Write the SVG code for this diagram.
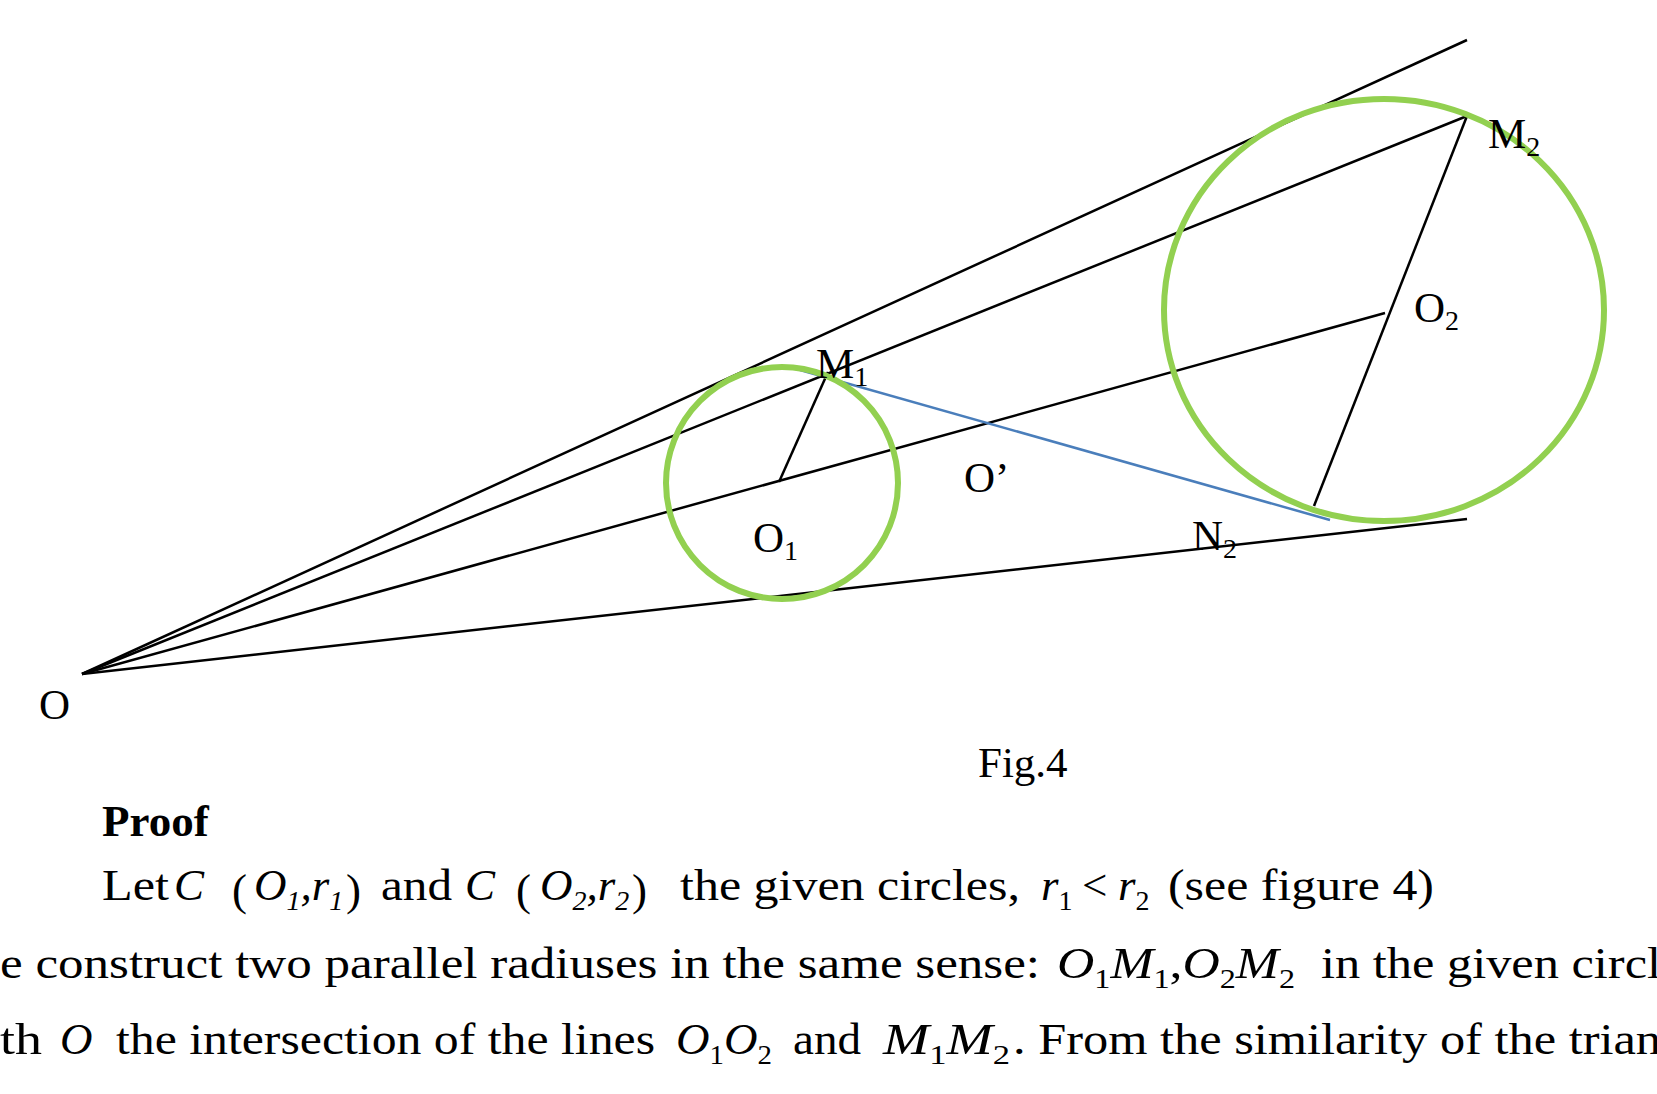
<svg xmlns="http://www.w3.org/2000/svg" width="1657" height="1094" viewBox="0 0 1657 1094" font-family="'Liberation Serif', 'Times New Roman', Times, serif">
<style>
.l{stroke:#000;stroke-width:2.5;fill:none}
.c{stroke:#92d050;stroke-width:6;fill:none}
text{font-family:'Liberation Serif','Times New Roman',Times,serif;font-size:45px;fill:#000}
.lb{font-size:43px}
.i{font-style:italic}
.s{font-size:28px}
</style>
<rect width="1657" height="1094" fill="#fff"/>
<g id="figure">
<line class="l" x1="82" y1="674" x2="1467" y2="40"/>
<line class="l" x1="82" y1="674" x2="1467" y2="116"/>
<line class="l" x1="82" y1="674" x2="1385" y2="313"/>
<line class="l" x1="82" y1="674" x2="1467" y2="519"/>
<line class="l" x1="828" y1="372" x2="779" y2="482"/>
<line class="l" x1="1467" y1="116" x2="1314" y2="506"/>
<line x1="800" y1="370" x2="1330" y2="520" stroke="#4a7ebb" stroke-width="2.5"/>
<circle class="c" cx="782" cy="483" r="116"/>
<ellipse class="c" cx="1384" cy="310" rx="220" ry="211"/>
</g>
<g id="labels">
<text class="lb" x="816" y="378">M<tspan class="s" dy="8">1</tspan></text>
<text class="lb" x="1488" y="148">M<tspan class="s" dy="8">2</tspan></text>
<text class="lb" x="1414" y="322">O<tspan class="s" dy="8">2</tspan></text>
<text class="lb" x="964" y="492">O’</text>
<text class="lb" x="753" y="552">O<tspan class="s" dy="8">1</tspan></text>
<text class="lb" x="1192" y="550">N<tspan class="s" dy="8">2</tspan></text>
<text class="lb" x="39" y="719">O</text>
<text class="lb" x="978" y="777">Fig.4</text>
</g>
<g id="text" lengthAdjust="spacingAndGlyphs">
<text x="102" y="836" font-weight="bold">Proof</text>
<text x="102" y="900" textLength="67" lengthAdjust="spacingAndGlyphs">Let</text>
<text x="174" y="900" class="i">C</text>
<text x="232" y="905" font-size="60">(</text>
<text x="254" y="900" class="i">O<tspan class="s" dy="10">1</tspan><tspan dy="-10">,</tspan>r<tspan class="s" dy="10">1</tspan></text>
<text x="346" y="905" font-size="60">)</text>
<text x="381" y="900" textLength="71" lengthAdjust="spacingAndGlyphs">and</text>
<text x="465" y="900" class="i">C</text>
<text x="516" y="905" font-size="60">(</text>
<text x="540" y="900" class="i">O<tspan class="s" dy="10">2</tspan><tspan dy="-10">,</tspan>r<tspan class="s" dy="10">2</tspan></text>
<text x="632" y="905" font-size="60">)</text>
<text x="680" y="900" textLength="340" lengthAdjust="spacingAndGlyphs">the given circles,</text>
<text x="1041" y="900" class="i">r<tspan class="s" dy="10" font-style="normal">1</tspan></text>
<text x="1082" y="900">&lt;</text>
<text x="1118" y="900" class="i">r<tspan class="s" dy="10" font-style="normal">2</tspan></text>
<text x="1168" y="900" textLength="266" lengthAdjust="spacingAndGlyphs">(see figure 4)</text>
<text x="0" y="978" textLength="1040" lengthAdjust="spacingAndGlyphs">e construct two parallel radiuses in the same sense:</text>
<text x="1057" y="978" class="i" textLength="238" lengthAdjust="spacingAndGlyphs">O<tspan class="s" dy="10" font-style="normal">1</tspan><tspan dy="-10">M</tspan><tspan class="s" dy="10" font-style="normal">1</tspan><tspan dy="-10" font-style="normal">,</tspan>O<tspan class="s" dy="10" font-style="normal">2</tspan><tspan dy="-10">M</tspan><tspan class="s" dy="10" font-style="normal">2</tspan></text>
<text x="1321" y="978" textLength="340" lengthAdjust="spacingAndGlyphs">in the given circl</text>
<text x="0" y="1054" textLength="42" lengthAdjust="spacingAndGlyphs">th</text>
<text x="60" y="1054" class="i">O</text>
<text x="116" y="1054" textLength="539" lengthAdjust="spacingAndGlyphs">the intersection of the lines</text>
<text x="676" y="1054" class="i" textLength="96" lengthAdjust="spacingAndGlyphs">O<tspan class="s" dy="10" font-style="normal">1</tspan><tspan dy="-10">O</tspan><tspan class="s" dy="10" font-style="normal">2</tspan></text>
<text x="793" y="1054" textLength="68" lengthAdjust="spacingAndGlyphs">and</text>
<text x="883" y="1054" class="i" textLength="127" lengthAdjust="spacingAndGlyphs">M<tspan class="s" dy="10" font-style="normal">1</tspan><tspan dy="-10">M</tspan><tspan class="s" dy="10" font-style="normal">2</tspan></text>
<text x="1013" y="1054" textLength="648" lengthAdjust="spacingAndGlyphs">. From the similarity of the trian</text>
</g>
</svg>
